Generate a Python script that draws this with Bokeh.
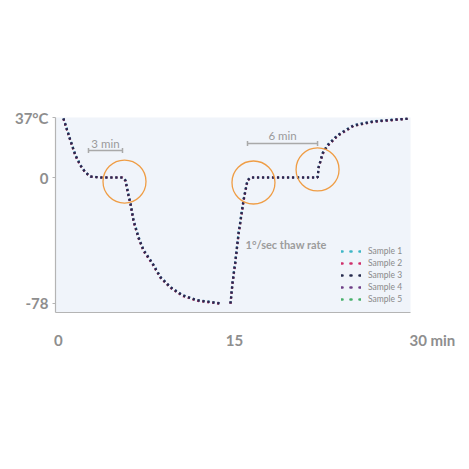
"""Freeze / thaw temperature profile, five samples, dotted traces."""

from bokeh.plotting import figure
from bokeh.models import (
    ColumnDataSource, Range1d, FixedTicker, Label, Legend, LegendItem,
)
from bokeh.embed import file_html
from bokeh.resources import INLINE

NAN = float("nan")

# --- data ------------------------------------------------------------------
TIME_MIN = [0.43, 1.02, 1.45, 1.88, 2.30, 2.73, 3.6, 4.5, 5.46, 5.71,
            5.97, 6.14, 6.39, 6.82, 7.25, 8.01, 8.70, 9.55, 10.57, 11.85,
            13.81, NAN, 14.66, 14.83, 15.09, 15.35, 15.52, 15.77, 16.11, 16.37,
            18.5, 20.5, 22.08, 22.17, 22.51, 22.93, 23.79, 25.15, 26.85, 29.75]

SAMPLE_1 = [36.9, 23.4, 14.0, 7.8, 3.3, 0.7, 0.0, 0.0, 0.0, -1.6,
            -10.6, -15.5, -26.0, -36.6, -44.8, -53.0, -61.7, -68.0, -73.0, -76.2,
            -78.1, NAN, -78.0, -65.0, -50.8, -34.0, -25.9, -13.6, -1.5, 0.0,
            0.0, 0.0, 0.0, 6.6, 15.4, 20.4, 26.5, 32.6, 35.0, 36.7]
SAMPLE_2 = [36.4, 22.7, 13.4, 7.3, 2.9, 0.5, 0.0, 0.0, 0.0, -2.1,
            -11.6, -16.6, -27.2, -37.8, -45.8, -53.9, -62.5, -68.6, -73.6, -76.7,
            -78.5, NAN, -78.5, -66.4, -52.2, -35.4, -27.3, -14.9, -2.2, 0.0,
            0.0, 0.0, 0.0, 5.9, 14.5, 19.5, 25.8, 32.0, 34.6, 36.5]
SAMPLE_3 = [36.6, 23.0, 13.7, 7.5, 3.1, 0.6, 0.0, 0.0, 0.0, -1.9,
            -11.2, -16.1, -26.7, -37.3, -45.3, -53.4, -62.1, -68.3, -73.3, -76.4,
            -78.3, NAN, -78.3, -65.8, -51.6, -34.8, -26.7, -14.3, -1.9, 0.0,
            0.0, 0.0, 0.0, 6.2, 14.9, 19.9, 26.1, 32.3, 34.8, 36.6]
SAMPLE_4 = [36.7, 23.2, 13.9, 7.6, 3.2, 0.6, 0.0, 0.0, 0.0, -1.8,
            -11.0, -15.9, -26.4, -37.0, -45.0, -53.2, -61.9, -68.1, -73.1, -76.3,
            -78.2, NAN, -78.2, -65.5, -51.2, -34.5, -26.4, -14.0, -1.7, 0.0,
            0.0, 0.0, 0.0, 6.4, 15.1, 20.1, 26.3, 32.4, 34.9, 36.6]
SAMPLE_5 = [36.5, 22.9, 13.6, 7.4, 3.0, 0.5, 0.0, 0.0, 0.0, -2.0,
            -11.4, -16.3, -26.9, -37.5, -45.5, -53.6, -62.3, -68.5, -73.4, -76.5,
            -78.4, NAN, -78.4, -66.1, -51.9, -35.1, -27.0, -14.6, -2.0, 0.0,
            0.0, 0.0, 0.0, 6.0, 14.7, 19.7, 25.9, 32.1, 34.7, 36.5]

SAMPLE_NAMES = ["Sample 1", "Sample 2", "Sample 3", "Sample 4", "Sample 5"]
SAMPLE_COLORS = ["#3db6c6", "#cf2f6b", "#262b4e", "#6d3d86", "#47b06b"]

X_TICKS = [0, 15, 30]
# the end label hangs to the right of its tick in the reference; the
# no-break spaces push the visible text past the tick
X_TICK_LABELS = {0: "0", 15: "15", 30: "\u00a0" * 12 + "30 min"}
Y_TICKS = [-78, 0, 37]
Y_TICK_LABELS = {-78: "-78", 0: "0", 37: "37°C"}

# event markers: circles (time, temp) and duration brackets
CIRCLE_T = [5.63, 16.62, 22.08]
CIRCLE_Y = [-2.5, -3.1, 5.0]
BRACKET_X0 = [2.56, 16.11]
BRACKET_X1 = [5.46, 22.08]
BRACKET_Y = [16.8, 21.1]
BRACKET_TEXT = ["3 min", "6 min"]
BRACKET_TEXT_Y = [21.3, 26.2]

FONT = "Lato"
GREY = "#8e8e8e"

p = figure(
    width=461, height=461,
    x_range=Range1d(-0.25, 30), y_range=Range1d(-83.9, 37.3),
    output_backend="svg", toolbar_location=None,
    min_border_left=55, min_border_right=51,
    min_border_top=117, min_border_bottom=149,
)
p.background_fill_color = "#f0f4fa"
p.border_fill_color = "white"
p.outline_line_color = None
p.grid.visible = False

# axes
for ax in (p.xaxis, p.yaxis):
    ax.axis_line_color = "#b4b4b4"
    ax.axis_line_width = 1.2
    ax.minor_tick_line_color = None
    ax.major_label_text_font = FONT
    ax.major_label_text_font_style = "bold"
    ax.major_label_text_font_size = "15px"
    ax.major_label_text_color = GREY

p.xaxis.ticker = FixedTicker(ticks=X_TICKS)
p.xaxis.major_label_overrides = X_TICK_LABELS
p.xaxis.major_tick_line_color = None
p.xaxis.major_label_standoff = 12

p.yaxis.ticker = FixedTicker(ticks=Y_TICKS)
p.yaxis.major_label_overrides = Y_TICK_LABELS
p.yaxis.major_tick_line_color = "#b4b4b4"
p.yaxis.major_tick_out = 3
p.yaxis.major_tick_in = 0
p.yaxis.major_label_standoff = 4

# traces
series = [SAMPLE_1, SAMPLE_2, SAMPLE_3, SAMPLE_4, SAMPLE_5]
sources = [ColumnDataSource(data=dict(t=TIME_MIN, temp=s)) for s in series]
for i in [0, 4, 1, 3, 2]:
    p.line("t", "temp", source=sources[i], line_color=SAMPLE_COLORS[i],
           line_width=2.2, line_dash="2 3")

# circles around transitions
p.scatter(CIRCLE_T, CIRCLE_Y, marker="circle", size=43, fill_color=None,
          line_color="#ef9d45", line_width=1.3)

# duration brackets
p.segment(BRACKET_X0, BRACKET_Y, BRACKET_X1, BRACKET_Y,
          line_color="#a9a9a9", line_width=1.5)
p.scatter(BRACKET_X0 + BRACKET_X1, BRACKET_Y + BRACKET_Y, marker="dash",
          angle=1.5708, size=5, line_color="#a9a9a9", line_width=1.5)
for x0, x1, yt, txt in zip(BRACKET_X0, BRACKET_X1, BRACKET_TEXT_Y, BRACKET_TEXT):
    p.add_layout(Label(
        x=(x0 + x1) / 2, y=yt, text=txt, text_align="center",
        text_baseline="middle", text_font=FONT, text_font_size="11.5px",
        text_color="#9a9a9a",
    ))

p.add_layout(Label(
    x=15.94, y=-41.6, text="1°/sec thaw rate", text_align="left",
    text_baseline="middle", text_font=FONT, text_font_style="bold",
    text_font_size="11px", text_color="#9c9c9c",
))

# legend: hidden twins of each trace, styled as sparse round dots
items = []
for name, color, src in zip(SAMPLE_NAMES, SAMPLE_COLORS, sources):
    r = p.line("t", "temp", source=src, line_color=color, line_width=2.6,
               line_dash="1 8", line_cap="round", visible=False)
    items.append(LegendItem(label=name, renderers=[r]))

legend = Legend(
    items=items, location=(286, 7),
    glyph_width=20, glyph_height=12, label_height=12,
    spacing=0, padding=0, margin=0, label_standoff=7,
    background_fill_alpha=0, border_line_color=None,
    inactive_fill_alpha=0,
    label_text_font=FONT, label_text_font_size="8.5px",
    label_text_color="#8a8a8a",
)
p.add_layout(legend)

open("out.html", "w").write(file_html(p, INLINE))
